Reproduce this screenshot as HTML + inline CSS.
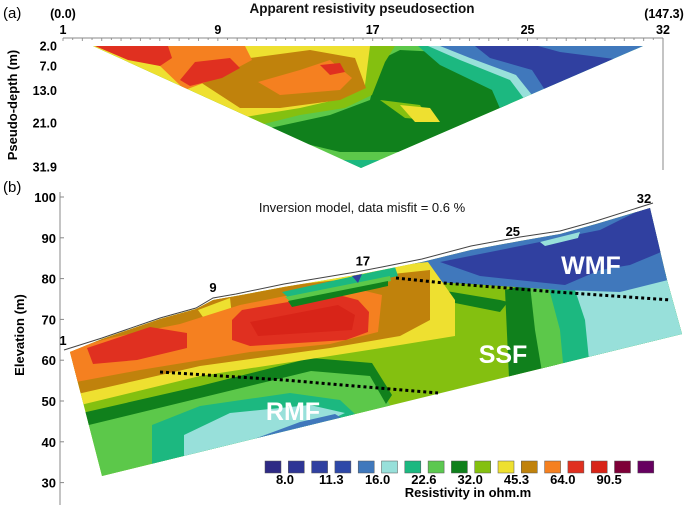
<!DOCTYPE html>
<html><head><meta charset="utf-8"><style>
html,body{margin:0;padding:0;background:#fff;}
svg{display:block;font-family:"Liberation Sans",Arial,sans-serif;}
</style></head><body>
<svg id="chart" width="685" height="505" viewBox="0 0 685 505">
<defs>
<clipPath id="tri"><polygon points="93,46 643,46 361,168"/></clipPath>
<clipPath id="sec"><polygon points="70,352 102,339 160,319 196,309 213,300 236,296 284,287 356,275 382,270 422,262 471,250 520,241 560,234 596,224 650,208 667,280 682,334 102,476"/></clipPath>
</defs>

<!-- Panel A -->
<text x="3" y="18" font-size="15">(a)</text>
<text x="362" y="13" font-size="13.5" font-weight="bold" text-anchor="middle" fill="#111">Apparent resistivity pseudosection</text>
<text x="63" y="18" font-size="12.5" font-weight="bold" text-anchor="middle">(0.0)</text>
<text x="664" y="18" font-size="12.5" font-weight="bold" text-anchor="middle">(147.3)</text>
<g id="topAxis"></g>
<line x1="63" y1="38" x2="663" y2="38" stroke="#888" stroke-width="1"/>
<line x1="663" y1="38" x2="663" y2="170" stroke="#888" stroke-width="1"/>
<g id="depthAxis"></g>
<text transform="translate(17,105) rotate(-90)" font-size="13" font-weight="bold" text-anchor="middle">Pseudo-depth (m)</text>

<g clip-path="url(#tri)">
<rect x="90" y="40" width="560" height="140" fill="#5CC84A"/>
<polygon fill="#1CB880" points="300,160 420,160 361,175"/>
<polygon fill="#10801C" points="270,128 330,115 370,100 380,60 400,50 500,55 515,100 470,130 400,152 340,152 290,140"/>
<polygon fill="#84C010" points="93,46 395,46 385,62 372,95 345,108 300,115 260,125 200,110"/>
<polygon fill="#84C010" points="380,100 420,105 430,120 405,118"/>
<polygon fill="#EEE030" points="93,46 370,46 365,85 335,100 300,108 245,117 180,100"/>
<polygon fill="#EEE030" points="400,105 430,108 440,122 415,122"/>
<polygon fill="#C0820C" points="150,50 250,58 310,50 355,58 366,88 340,100 280,108 240,108 200,82 160,62"/>
<polygon fill="#F58020" points="108,46 245,46 252,60 222,76 185,90 160,66"/>
<polygon fill="#F58020" points="258,82 300,70 330,60 352,78 340,90 280,95"/>
<polygon fill="#E03020" points="95,46 168,46 172,58 160,66 128,60"/>
<polygon fill="#E03020" points="180,80 195,62 230,58 240,68 222,78 190,86"/>
<polygon fill="#E03020" points="320,65 340,63 345,72 330,75"/>
<polygon fill="#1CB880" points="418,46 643,46 540,130 505,120 492,90 440,65"/>
<polygon fill="#98E0DA" points="428,46 643,46 545,125 525,100 510,80 460,60"/>
<polygon fill="#4078BC" points="440,46 643,46 552,115 532,95 516,75 470,58"/>
<polygon fill="#3040A0" points="475,46 538,46 560,52 622,60 600,90 565,108 545,90 532,70 490,58"/>
</g>

<!-- Panel B -->
<text x="3" y="192" font-size="15">(b)</text>
<line x1="60" y1="192" x2="60" y2="505" stroke="#888" stroke-width="1"/>
<g id="elevAxis"></g>
<text transform="translate(24,335) rotate(-90)" font-size="13" font-weight="bold" text-anchor="middle">Elevation (m)</text>
<text x="362" y="212" font-size="13" text-anchor="middle" fill="#111">Inversion model, data misfit = 0.6 %</text>

<g clip-path="url(#sec)">
<rect x="60" y="200" width="630" height="290" fill="#84C010"/>
<polygon fill="#10801C" points="505,290 545,280 560,380 510,400"/>
<polygon fill="#5CC84A" points="530,285 700,270 700,400 545,390 535,330"/>
<polygon fill="#1CB880" points="548,285 700,270 700,400 565,385 560,330"/>
<polygon fill="#98E0DA" points="575,290 700,270 700,400 590,370 585,320"/>
<polygon fill="#4078BC" points="410,262 655,200 668,280 620,292 560,290 470,284 430,282"/>
<polygon fill="#3040A0" points="440,262 600,230 650,205 666,250 630,265 600,270 565,285 480,276"/>
<polygon fill="#98E0DA" points="540,242 580,232 578,238 545,246"/>
<polygon fill="#10801C" points="388,280 440,290 500,300 508,302 500,312 440,300 388,292"/>
<polygon fill="#5CC84A" points="60,428 200,395 311,367 372,372 390,405 390,500 60,500"/>
<polygon fill="#10801C" points="60,418 200,386 311,358 372,363 392,395 386,404 370,376 311,371 200,398 60,432"/>
<polygon fill="#1CB880" points="152,500 152,425 200,406 290,393 340,400 355,414 160,500"/>
<polygon fill="#98E0DA" points="184,500 184,435 230,413 310,405 345,413 200,480"/>
<polygon fill="#4078BC" points="230,448 300,422 335,414 345,420 240,460"/>
<polygon fill="#EEE030" points="60,410 200,376 330,356 400,345 455,336 455,300 428,262 60,300"/>
<polygon fill="#C0820C" points="60,398 200,366 330,348 400,336 430,320 430,270 60,310"/>
<polygon fill="#EEE030" points="198,310 230,298 232,316 205,320"/>
<polygon fill="#F58020" points="60,385 140,370 250,352 330,344 378,332 382,295 340,285 240,305 180,324 110,338 60,352"/>
<polygon fill="#E03020" points="87,348 150,327 187,333 187,348 137,360 93,364"/>
<polygon fill="#E03020" points="232,320 242,310 335,294 358,300 369,312 368,332 346,340 250,346 232,340"/>
<polygon fill="#D82418" points="250,322 338,305 355,315 352,330 258,336"/>
<polygon fill="#1CB880" points="282,292 395,267 398,276 290,299"/>
<polygon fill="#5CC84A" points="285,297 390,276 391,281 292,303"/>
<polygon fill="#10801C" points="288,301 388,281 388,286 292,307"/>
<polygon fill="#3040A0" points="352,276 362,274 358,283"/>
</g>
<polyline fill="none" stroke="#444" stroke-width="1" points="64,350 102,338 160,318 196,308 213,298 236,294 284,284 356,272 382,267 422,259 471,246 520,237 560,231 596,221 653,203"/>
<g id="elecLabels"></g>
<polyline fill="none" stroke="#000" stroke-width="3" stroke-dasharray="3,3" points="396,278 444,283 556,292 671,300"/>
<polyline fill="none" stroke="#000" stroke-width="3" stroke-dasharray="3,3" points="160,372 284,380 378,388 438,393"/>
<text x="591" y="274" font-size="25" font-weight="bold" fill="#fff" text-anchor="middle">WMF</text>
<text x="503" y="363" font-size="25" font-weight="bold" fill="#fff" text-anchor="middle">SSF</text>
<text x="293" y="420" font-size="25" font-weight="bold" fill="#fff" text-anchor="middle">RMF</text>

<g id="legend"></g>
<text x="468" y="497" font-size="13" font-weight="bold" text-anchor="middle">Resistivity in ohm.m</text>
</svg>
<script>
const NS="http://www.w3.org/2000/svg";
const electrodeTicks=[1,9,17,25,32];
const depthTicks=["2.0","7.0","13.0","21.0","31.9"];
const depthTickY=[2.0,7.0,13.0,21.0,31.9];
const elevTicks=[100,90,80,70,60,50,40,30];
const electrodeB=[1,9,17,25,32];
const elevB=[62.5,75.5,82,89.2,97.3];
const legendColors=["#2E2A85","#2E3595","#3040A0","#2E48A8","#4078BC","#98E0DA","#1CB880","#5CC850","#10801C","#84C010","#EEE030","#C0820C","#F58020","#E03020","#D82418","#7E0038","#660060"];
const legendLabels=["8.0","11.3","16.0","22.6","32.0","45.3","64.0","90.5"];
const xA=e=>63+(e-1)*(600/31);
const yA=d=>46+(d-2)*(121/29.9);
const yB=v=>197+(100-v)*4.08;
const xB=e=>64+(e-1)*(581/31);
function mk(tag,attrs,parent,txt){const el=document.createElementNS(NS,tag);for(const k in attrs)el.setAttribute(k,attrs[k]);if(txt!==undefined)el.textContent=txt;parent.appendChild(el);return el;}
const ta=document.getElementById('topAxis');
for(let e=1;e<=32;e+=0.5){const t=mk('line',{x1:xA(e),x2:xA(e),y1:38,y2:e%1===0?41:40,stroke:'#999'},ta);

}
electrodeTicks.forEach(e=>{const t=mk('text',{x:xA(e),y:34,'font-size':12.5,'font-weight':'bold','text-anchor':'middle'},ta,String(e));

});
const da=document.getElementById('depthAxis');
depthTicks.forEach((l,i)=>{const t=mk('text',{x:57,y:yA(depthTickY[i])+4.5,'font-size':12.5,'font-weight':'bold','text-anchor':'end'},da,l);

});
const ea=document.getElementById('elevAxis');
elevTicks.forEach(v=>{const t=mk('text',{x:56,y:yB(v)+5,'font-size':13,'font-weight':'bold','text-anchor':'end'},ea,String(v));


const k=mk('line',{x1:60,x2:64,y1:yB(v),y2:yB(v),stroke:'#888'},ea);

});
const el=document.getElementById('elecLabels');
electrodeB.forEach((e,i)=>{const t=mk('text',{x:xB(e)-1,y:yB(elevB[i])-5,'font-size':13,'font-weight':'bold','text-anchor':'middle'},el,String(e));

});
const lg=document.getElementById('legend');
legendColors.forEach((c,i)=>{const r=mk('rect',{x:265+i*23.3,y:461,width:16,height:12,fill:c,stroke:'#555','stroke-width':0.5},lg);

});
legendLabels.forEach((l,i)=>{const t=mk('text',{x:285+i*46.3,y:484,'font-size':13,'font-weight':'bold','text-anchor':'middle'},lg,l);

});
</script>
</body></html>
